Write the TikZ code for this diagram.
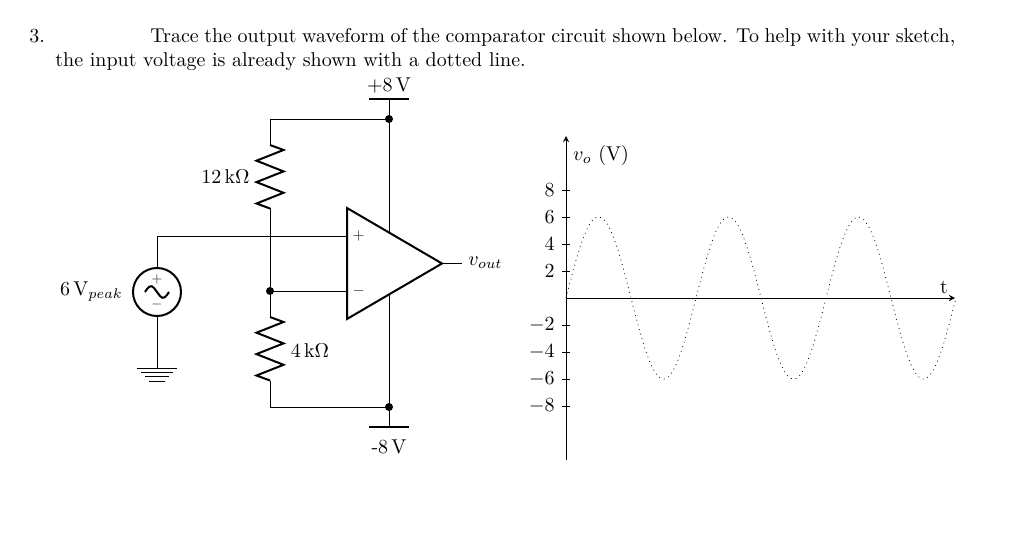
\documentclass[tikz,border=0pt]{standalone}
\usepackage{tikz}
\def\zigzag(#1){\draw[part] (#1) -- ++(13.5,5) -- ++(-27,10.7) -- ++(27,10.7) -- ++(-27,10.7) -- ++(27,10.7) -- ++(-27,10.7) -- ++(13.5,5);}
\tikzset{
	wire/.style={line width=0.4pt},
	part/.style={line width=1pt},
	txt/.style={inner sep=0pt},
	bodytxt/.style={inner sep=0pt, anchor=base west},
	tiny sign/.style={inner sep=0pt, color=black!80},
	junction/.style={circle, fill=black, inner sep=0pt, minimum size=4pt},
	>=stealth,
}

\begin{document}
\begin{tikzpicture}[x=0.5pt, y=-0.5pt]
	%%%%% START %%%%%
	\useasboundingbox (0, 0) rectangle (1031, 539);
	
	\node[bodytxt] (num) at (29, 42.5) {3.};
	\node[bodytxt] (lineone) at (150, 42.5) {\makebox[402.5pt][s]{Trace the output waveform of the comparator circuit shown below. To help with your sketch,}};
	\node[bodytxt] (linetwo) at (55, 66.5) {the input voltage is already shown with a dotted line.};
	
	\coordinate (topbar) at (389, 99);
	\coordinate (botbar) at (389, 427);
	\node[junction] (topdot) at (389, 119) {};
	\node[junction] (botdot) at (389, 407) {};
	\node[junction] (middot) at (270, 291) {};
	\coordinate (topcorner) at (270, 119);
	\coordinate (botcorner) at (270, 407);
	\coordinate (rtopa) at (270, 145);
	\coordinate (rtopb) at (270, 208.5);
	\coordinate (rbota) at (270, 317);
	\coordinate (rbotb) at (270, 380.5);
	
	\draw[part] (369, 99) -- (409, 99);
	\draw[part] (369, 427) -- (409, 427);
	\node[txt] (vplus) at (389, 86) {+8\,V};
	\node[txt] (vminus) at (389, 447) {-8\,V};
	
	\draw[wire] (topbar) -- (botbar);
	\draw[wire] (topdot) -- (topcorner) -- (rtopa);
	\draw[wire] (rtopb) -- (middot) -- (rbota);
	\draw[wire] (rbotb) -- (botcorner) -- (botdot);
	\zigzag(rtopa);
	\zigzag(rbota);
	\node[txt] (rtoplabel) at (225.5, 177) {12\,k$\Omega$};
	\node[txt] (rbotlabel) at (310, 351) {4\,k$\Omega$};
	
	\coordinate (inplus) at (347, 236);
	\coordinate (inminus) at (347, 291);
	\coordinate (outtip) at (442, 263.5);
	\coordinate (outend) at (462, 263.5);
	\coordinate (srcjoin) at (157, 236);
	\draw[wire] (srcjoin) -- (inplus);
	\draw[wire] (middot) -- (inminus);
	\draw[wire] (outtip) -- (outend);
	\draw[part, fill=white] (347, 208) -- (outtip) -- (347, 319) -- cycle;
	\node[tiny sign] (plussign) at (358.5, 236) {\scriptsize $+$};
	\node[tiny sign] (minussign) at (358.5, 291) {\scriptsize $-$};
	\node[txt] (vout) at (485.5, 263) {$v_{out}$};
	
	\node[draw, circle, part, inner sep=0pt, minimum size=24pt] (source) at (157, 292) {};
	\draw[part] (145, 292) .. controls (148, 287) and (151, 284) .. (154, 288) -- (160, 296) .. controls (163, 300) and (166, 297) .. (169, 292);
	\node[tiny sign] (srcplus) at (157, 280) {\fontsize{6}{6}\selectfont $+$};
	\node[tiny sign] (srcminus) at (157, 304.5) {\fontsize{6}{6}\selectfont $-$};
	\node[txt] (srclabel) at (91.5, 292) {6\,V$_{peak}$};
	\coordinate (gnd) at (157, 368.5);
	\draw[wire] (srcjoin) -- (source);
	\draw[wire] (source) -- (gnd);
	\draw[wire] (137, 368.5) -- (177, 368.5);
	\draw[wire] (141, 372.5) -- (173, 372.5);
	\draw[wire] (145, 376.5) -- (169, 376.5);
	\draw[wire] (149, 381) -- (165, 381);
	
	\coordinate (origin) at (566, 298);
	\coordinate (ybot) at (566, 460);
	\coordinate (ytop) at (566, 136);
	\coordinate (xend) at (955, 298);
	\draw[wire, ->] (ybot) -- (ytop);
	\draw[wire, ->] (origin) -- (xend);
	\node[txt] (tlabel) at (944, 287) {t};
	\node[txt] (vlabel) at (601, 155.5) {$v_o$ (V)};
	\foreach \v in {-8, -6, -4, -2, 2, 4, 6, 8} {
		\draw[wire] (562, {298-13.5*\v}) -- (570, {298-13.5*\v});
		\node[txt, anchor=east] (tick\v) at (555, {298-13.5*\v}) {$\v$};
	}
	\draw[wire, dotted] plot[domain=0:390, samples=200, smooth] ({566+\x}, {298-81*sin(\x/130*360)});
	
	%%%%% END %%%%%
\end{tikzpicture}
\end{document}
